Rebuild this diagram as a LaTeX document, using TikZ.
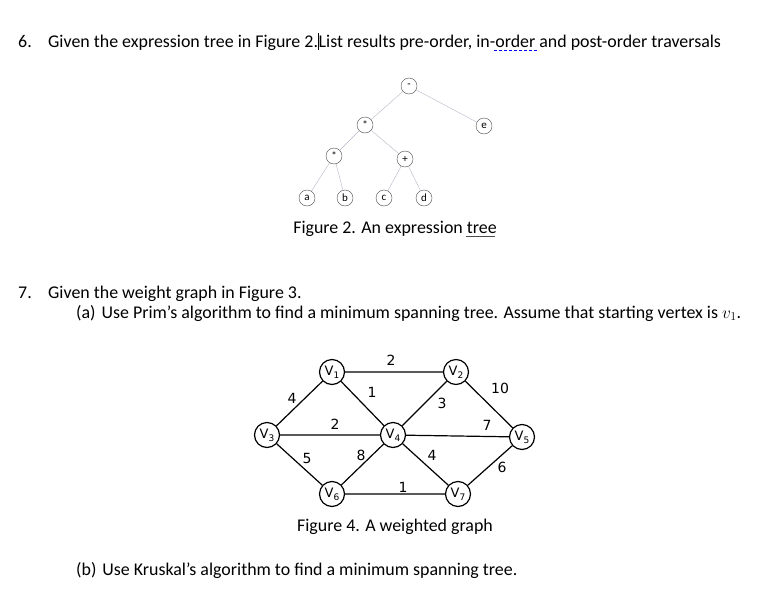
\documentclass[tikz,border=0pt]{standalone}
\usepackage{fontspec}
\setmainfont{Carlito}
\newfontfamily\vfont{DejaVu Sans}
\begin{document}
\begin{tikzpicture}[x=1pt,y=-1pt,
  tn/.style={circle,draw=black!70,fill=white,minimum size=16pt,inner sep=0pt,font=\fontsize{11}{11}\selectfont},
  gn/.style={circle,draw,line width=1.2pt,fill=white,minimum size=25pt,inner sep=0pt,font=\vfont\fontsize{13}{13}\selectfont},
  te/.style={draw=blue!15!gray!50},
  ge/.style={draw,line width=1.2pt},
  wl/.style={font=\vfont\fontsize{14}{14}\selectfont},
  tx/.style={anchor=base west,inner sep=0pt,font=\fontsize{17.9}{20}\selectfont}]
\useasboundingbox (0,0) rectangle (765,597);
% tree
\node[tn] (m) at (409,86) {-};
\node[tn] (s1) at (365,125) {*};
\node[tn] (e) at (484,126) {e};
\node[tn] (s2) at (334,156) {*};
\node[tn] (p) at (405,159) {+};
\node[tn] (a) at (307,198) {a};
\node[tn] (b) at (345,198) {b};
\node[tn] (c) at (384,198) {c};
\node[tn] (d) at (424,198) {d};
\draw[te] (m)--(s1) (m)--(e) (s1)--(s2) (s1)--(p) (s2)--(a) (s2)--(b) (p)--(c) (p)--(d);
% graph
\node[gn] (v1) at (332,372) {V\raisebox{-3pt}{\fontsize{9}{9}\selectfont 1}};
\node[gn] (v2) at (456,372) {V\raisebox{-3pt}{\fontsize{9}{9}\selectfont 2}};
\node[gn] (v3) at (267,435) {V\raisebox{-3pt}{\fontsize{9}{9}\selectfont 3}};
\node[gn] (v4) at (393,435) {V\raisebox{-3pt}{\fontsize{9}{9}\selectfont 4}};
\node[gn] (v5) at (522,437) {V\raisebox{-3pt}{\fontsize{9}{9}\selectfont 5}};
\node[gn] (v6) at (332,494) {V\raisebox{-3pt}{\fontsize{9}{9}\selectfont 6}};
\node[gn] (v7) at (458,494) {V\raisebox{-3pt}{\fontsize{9}{9}\selectfont 7}};
\draw[ge] (v1)--(v2) (v1)--(v4) (v3)--(v1) (v2)--(v5) (v4)--(v2) (v3)--(v4) (v4)--(v5)
  (v3)--(v6) (v6)--(v4) (v4)--(v7) (v7)--(v5) (v6)--(v7);
\node[wl] (w1) at (391,360) {2};
\node[wl] (w2) at (372,392) {1};
\node[wl] (w3) at (292,398) {4};
\node[wl] (w4) at (500,388) {10};
\node[wl] (w5) at (442,403) {3};
\node[wl] (w6) at (335,424) {2};
\node[wl] (w7) at (487,425) {7};
\node[wl] (w8) at (307,458) {5};
\node[wl] (w9) at (361,455) {8};
\node[wl] (w10) at (432,455) {4};
\node[wl] (w11) at (502,467) {6};
\node[wl] (w12) at (403,487) {1};
% texts
\node[tx] (n6) at (18,47) {6.};
\node[tx] (q6) at (48,47) {Given the expression tree in Figure 2.\rule[-3pt]{0.6pt}{17pt}List results pre-order, in-order and post-order traversals};
\draw[blue,densely dashed] (494,50) -- (538,50);
\node[tx,anchor=base] (c2) at (395,233) {Figure 2. An expression tree};
\draw[black!70] (466,236) -- (495,236);
\node[tx] (n7) at (18,298) {7.};
\node[tx] (q7) at (48,298) {Given the weight graph in Figure 3.};
\node[tx] (qa) at (76,318) {(a)\hspace{6pt}Use Prim’s algorithm to find a minimum spanning tree. Assume that starting vertex is $v_1$.};
\node[tx,anchor=base] (c4) at (395,531) {Figure 4. A weighted graph};
\node[tx] (qb) at (76,575) {(b)\hspace{6pt}Use Kruskal’s algorithm to find a minimum spanning tree.};
\end{tikzpicture}
\end{document}
